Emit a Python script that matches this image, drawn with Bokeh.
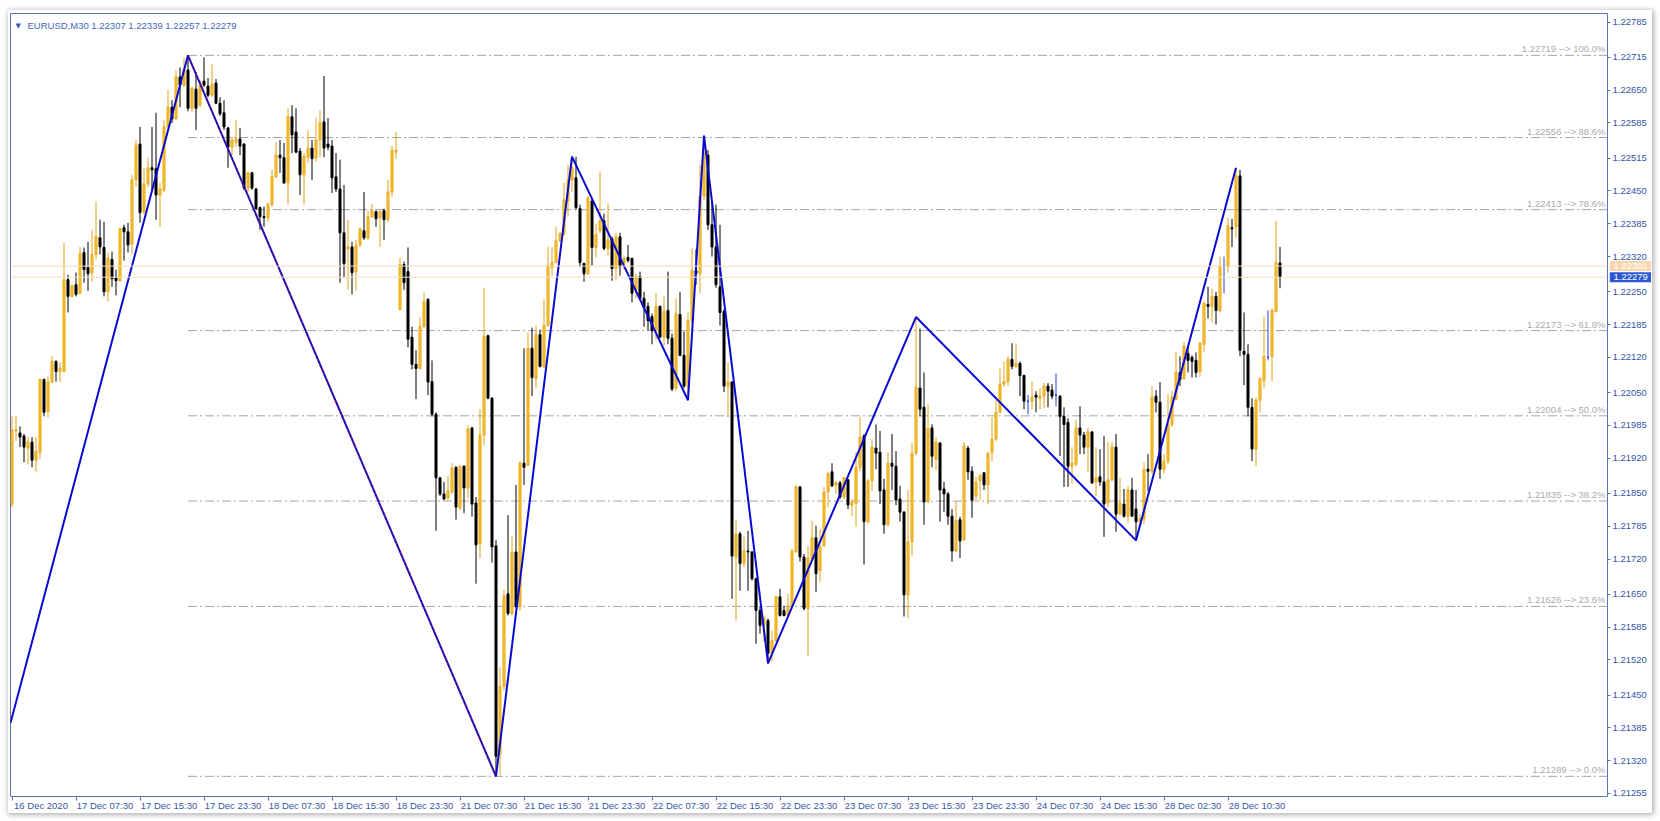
from bokeh.plotting import figure
from bokeh.layouts import row
from bokeh.models import ColumnDataSource, FixedTicker, Label, Range1d, PrintfTickFormatter, Span
from bokeh.embed import file_html
from bokeh.resources import INLINE
from bokeh.core.properties import value

SYMBOL = "EURUSD,M30"

open_ = [
    1.21829, 1.21974, 1.21970, 1.21964, 1.21940, 1.21952, 1.21916, 1.21932, 1.22076, 1.22013,
    1.22071, 1.22112, 1.22092, 1.22092, 1.22274, 1.22241, 1.22264, 1.22247, 1.22328, 1.22298,
    1.22288, 1.22324, 1.22357, 1.22338, 1.22250, 1.22314, 1.22278, 1.22272, 1.22377, 1.22369,
    1.22345, 1.22472, 1.22543, 1.22409, 1.22464, 1.22496, 1.22494, 1.22442, 1.22452, 1.22577,
    1.22616, 1.22593, 1.22676, 1.22660, 1.22690, 1.22614, 1.22652, 1.22620, 1.22668, 1.22658,
    1.22640, 1.22664, 1.22624, 1.22605, 1.22575, 1.22537, 1.22547, 1.22553, 1.22543, 1.22456,
    1.22486, 1.22454, 1.22417, 1.22399, 1.22397, 1.22423, 1.22478, 1.22521, 1.22516, 1.22466,
    1.22597, 1.22567, 1.22529, 1.22482, 1.22517, 1.22535, 1.22516, 1.22551, 1.22587, 1.22543,
    1.22539, 1.22478, 1.22454, 1.22367, 1.22335, 1.22339, 1.22290, 1.22343, 1.22371, 1.22357,
    1.22399, 1.22409, 1.22397, 1.22411, 1.22393, 1.22448, 1.22527, 1.22215, 1.22304, 1.22290,
    1.22160, 1.22106, 1.22098, 1.22181, 1.22235, 1.22072, 1.22007, 1.21881, 1.21849, 1.21841,
    1.21853, 1.21902, 1.21821, 1.21904, 1.21861, 1.21980, 1.21831, 1.21750, 1.21966, 1.22163,
    1.22039, 1.21746, 1.21333, 1.21467, 1.21651, 1.21612, 1.21734, 1.21626, 1.21910, 1.21906,
    1.22138, 1.22078, 1.22165, 1.22102, 1.22183, 1.22298, 1.22308, 1.22351, 1.22365, 1.22430,
    1.22472, 1.22476, 1.22415, 1.22306, 1.22286, 1.22430, 1.22338, 1.22371, 1.22391, 1.22336,
    1.22355, 1.22296, 1.22359, 1.22306, 1.22318, 1.22316, 1.22254, 1.22280, 1.22237, 1.22221,
    1.22201, 1.22173, 1.22221, 1.22160, 1.22213, 1.22158, 1.22059, 1.22205, 1.22124, 1.22063,
    1.22193, 1.22292, 1.22286, 1.22440, 1.22521, 1.22383, 1.22339, 1.22260, 1.22211, 1.22063,
    1.22071, 1.21724, 1.21770, 1.21711, 1.21736, 1.21734, 1.21681, 1.21618, 1.21588, 1.21598,
    1.21533, 1.21558, 1.21645, 1.21618, 1.21608, 1.21627, 1.21734, 1.21863, 1.21724, 1.21622,
    1.21720, 1.21762, 1.21697, 1.21746, 1.21853, 1.21893, 1.21867, 1.21871, 1.21843, 1.21877,
    1.21827, 1.21831, 1.21902, 1.21964, 1.21794, 1.21875, 1.21940, 1.21932, 1.21857, 1.21788,
    1.21910, 1.21904, 1.21839, 1.21813, 1.21649, 1.21754, 1.21930, 1.22059, 1.22021, 1.21833,
    1.21980, 1.21918, 1.21950, 1.21859, 1.21849, 1.21805, 1.21736, 1.21798, 1.21758, 1.21940,
    1.21894, 1.21845, 1.21875, 1.21891, 1.21867, 1.21932, 1.21958, 1.22011, 1.22067, 1.22072,
    1.22116, 1.22102, 1.22108, 1.22084, 1.22033, 1.22033, 1.22045, 1.22039, 1.22043, 1.22063,
    1.22055, 1.22045, 1.22043, 1.22003, 1.21991, 1.21904, 1.21908, 1.21980, 1.21966, 1.21942,
    1.21972, 1.21873, 1.21883, 1.21873, 1.21831, 1.21877, 1.21942, 1.21809, 1.21829, 1.21805,
    1.21857, 1.21819, 1.21794, 1.21800, 1.21898, 1.21894, 1.22043, 1.22031, 1.21898, 1.21914,
    1.21987, 1.22037, 1.22090, 1.22078, 1.22128, 1.22120, 1.22114, 1.22092, 1.22146, 1.22225,
    1.22221, 1.22241, 1.22213, 1.22302, 1.22300, 1.22377, 1.22379, 1.22480, 1.22132, 1.22126,
    1.22021, 1.21938, 1.22035, 1.22074, 1.22120, 1.22122, 1.22211, 1.22307,
]

high = [
    1.22003, 1.22003, 1.21983, 1.21968, 1.21962, 1.21962, 1.21962, 1.22076, 1.22078, 1.22082,
    1.22122, 1.22114, 1.22110, 1.22347, 1.22284, 1.22264, 1.22288, 1.22339, 1.22338, 1.22349,
    1.22373, 1.22430, 1.22393, 1.22389, 1.22328, 1.22330, 1.22294, 1.22377, 1.22383, 1.22387,
    1.22482, 1.22551, 1.22577, 1.22496, 1.22516, 1.22577, 1.22605, 1.22466, 1.22591, 1.22650,
    1.22630, 1.22690, 1.22695, 1.22715, 1.22719, 1.22656, 1.22686, 1.22670, 1.22715, 1.22674,
    1.22701, 1.22672, 1.22636, 1.22630, 1.22577, 1.22557, 1.22591, 1.22575, 1.22545, 1.22488,
    1.22488, 1.22456, 1.22419, 1.22419, 1.22427, 1.22492, 1.22547, 1.22551, 1.22545, 1.22614,
    1.22620, 1.22614, 1.22535, 1.22525, 1.22571, 1.22551, 1.22595, 1.22610, 1.22678, 1.22595,
    1.22551, 1.22525, 1.22512, 1.22462, 1.22393, 1.22349, 1.22353, 1.22377, 1.22448, 1.22411,
    1.22425, 1.22411, 1.22411, 1.22415, 1.22472, 1.22539, 1.22567, 1.22318, 1.22310, 1.22338,
    1.22181, 1.22134, 1.22199, 1.22249, 1.22237, 1.22114, 1.22011, 1.21883, 1.21873, 1.21885,
    1.21910, 1.21904, 1.21906, 1.21906, 1.21985, 1.21982, 1.21843, 1.22017, 1.22258, 1.22165,
    1.22041, 1.21758, 1.21505, 1.21659, 1.21807, 1.21766, 1.21867, 1.21914, 1.22138, 1.22169,
    1.22179, 1.22183, 1.22175, 1.22235, 1.22339, 1.22339, 1.22379, 1.22369, 1.22466, 1.22502,
    1.22518, 1.22518, 1.22423, 1.22308, 1.22440, 1.22434, 1.22385, 1.22488, 1.22405, 1.22425,
    1.22359, 1.22367, 1.22367, 1.22322, 1.22343, 1.22318, 1.22286, 1.22290, 1.22250, 1.22229,
    1.22207, 1.22247, 1.22223, 1.22241, 1.22290, 1.22167, 1.22237, 1.22250, 1.22171, 1.22209,
    1.22336, 1.22334, 1.22502, 1.22560, 1.22531, 1.22427, 1.22423, 1.22383, 1.22215, 1.22110,
    1.22072, 1.21798, 1.21774, 1.21766, 1.21776, 1.21736, 1.21683, 1.21627, 1.21608, 1.21602,
    1.21578, 1.21647, 1.21661, 1.21627, 1.21651, 1.21740, 1.21867, 1.21865, 1.21730, 1.21746,
    1.21796, 1.21786, 1.21780, 1.21863, 1.21893, 1.21910, 1.21875, 1.21875, 1.21883, 1.21879,
    1.21839, 1.21932, 1.22001, 1.21968, 1.21879, 1.21958, 1.21987, 1.21974, 1.21879, 1.21932,
    1.21968, 1.21934, 1.21865, 1.21815, 1.21857, 1.21950, 1.22200, 1.22177, 1.22090, 1.22027,
    1.21987, 1.21962, 1.21952, 1.21873, 1.21853, 1.21819, 1.21835, 1.21804, 1.21952, 1.21944,
    1.21904, 1.21883, 1.21889, 1.21893, 1.21932, 1.22001, 1.22035, 1.22098, 1.22112, 1.22122,
    1.22148, 1.22148, 1.22112, 1.22086, 1.22045, 1.22072, 1.22053, 1.22059, 1.22069, 1.22069,
    1.22067, 1.22088, 1.22045, 1.22021, 1.21999, 1.21942, 1.21997, 1.22023, 1.21972, 1.21980,
    1.21974, 1.21942, 1.21938, 1.21964, 1.21952, 1.21952, 1.21968, 1.21881, 1.21859, 1.21865,
    1.21881, 1.21857, 1.21809, 1.21912, 1.21928, 1.22063, 1.22055, 1.22071, 1.21928, 1.22047,
    1.22053, 1.22130, 1.22122, 1.22150, 1.22142, 1.22124, 1.22130, 1.22150, 1.22231, 1.22260,
    1.22256, 1.22250, 1.22320, 1.22320, 1.22397, 1.22395, 1.22496, 1.22492, 1.22209, 1.22146,
    1.22039, 1.22041, 1.22080, 1.22201, 1.22213, 1.22217, 1.22391, 1.22339,
]

low = [
    1.21823, 1.21954, 1.21942, 1.21912, 1.21908, 1.21902, 1.21893, 1.21918, 1.22003, 1.22001,
    1.22069, 1.22072, 1.22071, 1.22090, 1.22209, 1.22239, 1.22241, 1.22245, 1.22268, 1.22252,
    1.22270, 1.22314, 1.22324, 1.22241, 1.22231, 1.22260, 1.22243, 1.22270, 1.22312, 1.22328,
    1.22324, 1.22458, 1.22387, 1.22403, 1.22458, 1.22448, 1.22393, 1.22379, 1.22448, 1.22575,
    1.22585, 1.22591, 1.22616, 1.22656, 1.22608, 1.22606, 1.22571, 1.22616, 1.22656, 1.22636,
    1.22636, 1.22622, 1.22599, 1.22571, 1.22496, 1.22521, 1.22537, 1.22521, 1.22452, 1.22448,
    1.22452, 1.22413, 1.22373, 1.22379, 1.22389, 1.22419, 1.22476, 1.22486, 1.22464, 1.22423,
    1.22525, 1.22525, 1.22442, 1.22423, 1.22506, 1.22472, 1.22508, 1.22517, 1.22517, 1.22531,
    1.22446, 1.22448, 1.22268, 1.22278, 1.22254, 1.22245, 1.22252, 1.22339, 1.22353, 1.22353,
    1.22397, 1.22379, 1.22339, 1.22353, 1.22389, 1.22438, 1.22514, 1.22213, 1.22254, 1.22140,
    1.22096, 1.22037, 1.22096, 1.22179, 1.22045, 1.22003, 1.21776, 1.21845, 1.21837, 1.21837,
    1.21849, 1.21798, 1.21817, 1.21811, 1.21841, 1.21804, 1.21671, 1.21722, 1.21946, 1.22037,
    1.21713, 1.21289, 1.21291, 1.21459, 1.21608, 1.21608, 1.21622, 1.21618, 1.21867, 1.21904,
    1.22043, 1.22059, 1.22100, 1.22098, 1.22181, 1.22282, 1.22306, 1.22349, 1.22361, 1.22399,
    1.22448, 1.22413, 1.22299, 1.22270, 1.22284, 1.22302, 1.22318, 1.22367, 1.22332, 1.22322,
    1.22272, 1.22272, 1.22282, 1.22294, 1.22308, 1.22229, 1.22237, 1.22235, 1.22181, 1.22173,
    1.22146, 1.22154, 1.22158, 1.22144, 1.22146, 1.22053, 1.22053, 1.22122, 1.22059, 1.22035,
    1.22187, 1.22264, 1.22247, 1.22432, 1.22373, 1.22320, 1.22258, 1.22183, 1.22051, 1.22001,
    1.21641, 1.21598, 1.21657, 1.21703, 1.21657, 1.21677, 1.21552, 1.21572, 1.21556, 1.21513,
    1.21517, 1.21556, 1.21606, 1.21606, 1.21606, 1.21626, 1.21734, 1.21715, 1.21618, 1.21528,
    1.21716, 1.21655, 1.21675, 1.21744, 1.21823, 1.21863, 1.21849, 1.21839, 1.21839, 1.21819,
    1.21805, 1.21784, 1.21894, 1.21709, 1.21790, 1.21855, 1.21898, 1.21829, 1.21770, 1.21784,
    1.21857, 1.21827, 1.21794, 1.21606, 1.21602, 1.21726, 1.21926, 1.22003, 1.21788, 1.21831,
    1.21902, 1.21896, 1.21794, 1.21813, 1.21788, 1.21715, 1.21734, 1.21722, 1.21756, 1.21877,
    1.21802, 1.21837, 1.21837, 1.21857, 1.21829, 1.21914, 1.21954, 1.22009, 1.22061, 1.22063,
    1.22096, 1.22100, 1.22043, 1.22017, 1.22007, 1.22017, 1.22011, 1.22017, 1.22019, 1.22021,
    1.22037, 1.22023, 1.21924, 1.21863, 1.21863, 1.21869, 1.21904, 1.21928, 1.21928, 1.21893,
    1.21869, 1.21845, 1.21865, 1.21764, 1.21823, 1.21875, 1.21774, 1.21807, 1.21802, 1.21792,
    1.21804, 1.21757, 1.21790, 1.21790, 1.21855, 1.21889, 1.22011, 1.21879, 1.21889, 1.21908,
    1.21982, 1.22035, 1.22063, 1.22076, 1.22090, 1.22080, 1.22080, 1.22082, 1.22130, 1.22197,
    1.22189, 1.22185, 1.22209, 1.22247, 1.22288, 1.22339, 1.22357, 1.22122, 1.22065, 1.22003,
    1.21914, 1.21904, 1.22011, 1.22059, 1.22114, 1.22072, 1.22209, 1.22257,
]

close = [
    1.21976, 1.21976, 1.21962, 1.21942, 1.21952, 1.21916, 1.21934, 1.22076, 1.22011, 1.22071,
    1.22112, 1.22092, 1.22098, 1.22274, 1.22241, 1.22262, 1.22245, 1.22326, 1.22294, 1.22286,
    1.22324, 1.22359, 1.22339, 1.22250, 1.22316, 1.22276, 1.22272, 1.22375, 1.22369, 1.22343,
    1.22472, 1.22541, 1.22407, 1.22464, 1.22496, 1.22492, 1.22442, 1.22454, 1.22577, 1.22616,
    1.22593, 1.22676, 1.22660, 1.22690, 1.22614, 1.22654, 1.22614, 1.22660, 1.22660, 1.22640,
    1.22662, 1.22624, 1.22603, 1.22577, 1.22537, 1.22551, 1.22553, 1.22539, 1.22456, 1.22486,
    1.22456, 1.22415, 1.22399, 1.22397, 1.22423, 1.22478, 1.22521, 1.22516, 1.22466, 1.22597,
    1.22561, 1.22527, 1.22482, 1.22519, 1.22535, 1.22514, 1.22551, 1.22585, 1.22535, 1.22537,
    1.22476, 1.22454, 1.22367, 1.22306, 1.22339, 1.22288, 1.22343, 1.22375, 1.22357, 1.22399,
    1.22411, 1.22395, 1.22409, 1.22393, 1.22448, 1.22531, 1.22531, 1.22304, 1.22268, 1.22156,
    1.22106, 1.22098, 1.22181, 1.22231, 1.22071, 1.22007, 1.21881, 1.21849, 1.21839, 1.21855,
    1.21900, 1.21823, 1.21904, 1.21861, 1.21978, 1.21829, 1.21748, 1.21966, 1.22161, 1.22039,
    1.21744, 1.21329, 1.21467, 1.21647, 1.21612, 1.21734, 1.21626, 1.21910, 1.21902, 1.22138,
    1.22080, 1.22165, 1.22102, 1.22183, 1.22302, 1.22308, 1.22351, 1.22365, 1.22432, 1.22472,
    1.22496, 1.22417, 1.22308, 1.22286, 1.22436, 1.22338, 1.22363, 1.22391, 1.22336, 1.22353,
    1.22296, 1.22359, 1.22300, 1.22316, 1.22312, 1.22247, 1.22280, 1.22237, 1.22219, 1.22193,
    1.22173, 1.22221, 1.22160, 1.22211, 1.22158, 1.22057, 1.22207, 1.22124, 1.22063, 1.22193,
    1.22292, 1.22286, 1.22440, 1.22525, 1.22383, 1.22339, 1.22264, 1.22209, 1.22063, 1.22071,
    1.21726, 1.21770, 1.21711, 1.21736, 1.21734, 1.21681, 1.21618, 1.21588, 1.21602, 1.21533,
    1.21558, 1.21645, 1.21608, 1.21608, 1.21627, 1.21736, 1.21863, 1.21724, 1.21622, 1.21722,
    1.21762, 1.21691, 1.21744, 1.21853, 1.21889, 1.21865, 1.21871, 1.21843, 1.21881, 1.21827,
    1.21833, 1.21902, 1.21962, 1.21794, 1.21875, 1.21942, 1.21930, 1.21855, 1.21788, 1.21910,
    1.21904, 1.21837, 1.21813, 1.21649, 1.21754, 1.21930, 1.22061, 1.22017, 1.21833, 1.21978,
    1.21924, 1.21952, 1.21857, 1.21849, 1.21805, 1.21736, 1.21796, 1.21756, 1.21944, 1.21893,
    1.21837, 1.21873, 1.21885, 1.21867, 1.21930, 1.21958, 1.22011, 1.22067, 1.22072, 1.22116,
    1.22102, 1.22108, 1.22084, 1.22033, 1.22033, 1.22041, 1.22041, 1.22043, 1.22063, 1.22053,
    1.22043, 1.22045, 1.22003, 1.21987, 1.21904, 1.21910, 1.21980, 1.21966, 1.21942, 1.21972,
    1.21871, 1.21881, 1.21873, 1.21829, 1.21877, 1.21942, 1.21809, 1.21831, 1.21805, 1.21857,
    1.21805, 1.21794, 1.21800, 1.21898, 1.21894, 1.22041, 1.22031, 1.21898, 1.21914, 1.21987,
    1.22041, 1.22090, 1.22076, 1.22142, 1.22114, 1.22112, 1.22090, 1.22148, 1.22227, 1.22221,
    1.22241, 1.22213, 1.22300, 1.22302, 1.22381, 1.22375, 1.22480, 1.22134, 1.22126, 1.22021,
    1.21938, 1.22035, 1.22078, 1.22122, 1.22120, 1.22213, 1.22308, 1.22279,
]

time_labels = [
    "16 Dec 2020", "17 Dec 07:30", "17 Dec 15:30", "17 Dec 23:30", "18 Dec 07:30",
    "18 Dec 15:30", "18 Dec 23:30", "21 Dec 07:30", "21 Dec 15:30", "21 Dec 23:30",
    "22 Dec 07:30", "22 Dec 15:30", "22 Dec 23:30", "23 Dec 07:30", "23 Dec 15:30",
    "23 Dec 23:30", "24 Dec 07:30", "24 Dec 15:30", "28 Dec 02:30", "28 Dec 10:30",
]
bars_per_label = 16

price_ticks = [
    1.22785, 1.22715, 1.22650, 1.22585, 1.22515, 1.22450, 1.22385, 1.22320,
    1.22250, 1.22185, 1.22120, 1.22050, 1.21985, 1.21920, 1.21850, 1.21785,
    1.21720, 1.21650, 1.21585, 1.21520, 1.21450, 1.21385, 1.21320, 1.21255,
]

zigzag_bar = [-0.375, 44, 121, 140, 169, 173, 189, 226, 281, 306]
zigzag_price = [1.21395, 1.22719, 1.21289, 1.22518, 1.22035, 1.22560, 1.21513, 1.22200, 1.21757, 1.22496]

fib_ratio = [100.0, 88.6, 78.6, 61.8, 50.0, 38.2, 23.6, 0.0]
fib_price = [1.22719, 1.22556, 1.22413, 1.22173, 1.22004, 1.21835, 1.21626, 1.21289]
fib_from_bar = 44
fib_to_bar = 121

ask_price = 1.22301
bid_price = 1.22279

# ---------------------------------------------------------------- styling
FONT = "Liberation Sans"
AXIS_BLUE = "#3556a6"
FRAME = "#5874ad"
BULL_FILL = "#ffd21a"
BULL_LINE = "#e3a21a"
BEAR = "#000000"
DOJI = "#2a3fd0"

x_start = -0.375
x_end = x_start + 399.25
y_start, y_end = 1.21249, 1.22802

WIN_LEFT, WIN_TOP = 8, 10          # chart window position on the page
BORDER_L, BORDER_T, BORDER_R, BORDER_B = 2, 3, 45, 15
WIN_W, WIN_H = 1644, 803

y_range = Range1d(y_start, y_end)

p = figure(width=WIN_W, height=WIN_H, output_backend="svg", toolbar_location=None,
           x_range=Range1d(x_start, x_end), y_range=y_range,
           y_axis_location="right",
           min_border_left=BORDER_L, min_border_top=BORDER_T,
           min_border_right=BORDER_R, min_border_bottom=BORDER_B,
           background_fill_color="white", border_fill_color="white",
           outline_line_color=FRAME, outline_line_width=1)
p.styles = {"margin-left": f"{WIN_LEFT}px", "margin-top": f"{WIN_TOP}px",
            "box-shadow": "1px 1px 5px 1px rgba(0,0,0,0.30)"}
p.grid.visible = False

n = len(close)
xs = list(range(n))
wick_col, fill_col, line_col, tops, bottoms = [], [], [], [], []
for o, c in zip(open_, close):
    if c > o:
        wick_col.append(BULL_LINE); fill_col.append(BULL_FILL); line_col.append(BULL_LINE)
    elif c < o:
        wick_col.append(BEAR); fill_col.append(BEAR); line_col.append(BEAR)
    else:
        wick_col.append(DOJI); fill_col.append(DOJI); line_col.append(DOJI)
    tops.append(max(o, c)); bottoms.append(min(o, c))

src = ColumnDataSource(dict(x=xs, h=high, l=low, top=tops, bottom=bottoms,
                            wick=wick_col, fill=fill_col, line=line_col))

# ask / bid lines
p.add_layout(Span(location=ask_price, dimension="width", line_color="#f6d9bc", line_width=1))
p.add_layout(Span(location=bid_price, dimension="width", line_color="#f3dfbf", line_width=1))

# fibonacci levels
p.segment(x0=[fib_from_bar] * len(fib_price), y0=fib_price,
          x1=[x_end] * len(fib_price), y1=fib_price,
          line_color="#a4a4a4", line_width=1, line_dash="9 3 2 3")
p.text(x=[x_end] * len(fib_price), y=fib_price,
       text=[f"{pr:.5f} --> {r:.1f}%" for pr, r in zip(fib_price, fib_ratio)],
       text_align="right", text_baseline="bottom", x_offset=-2, y_offset=-1,
       text_font=value(FONT), text_font_size="9.5px", text_color="#ababab")

# candles
p.segment(x0="x", y0="l", x1="x", y1="h", line_color="wick", line_width=1, source=src)
p.vbar(x="x", width=0.5, top="top", bottom="bottom", fill_color="fill",
       line_color="line", line_width=1, source=src)

# zigzag + fibo trendline
p.line(zigzag_bar, zigzag_price, line_color="#0a0ad2", line_width=2)
p.line([fib_from_bar, fib_to_bar], [fib_price[0], fib_price[-1]],
       line_color="#d01010", line_width=1, line_dash="2 3")

# axes
p.yaxis.ticker = FixedTicker(ticks=price_ticks)
p.yaxis.formatter = PrintfTickFormatter(format="%.5f")
p.yaxis.axis_line_color = None
p.yaxis.major_tick_out = 3
p.yaxis.major_tick_in = 0
p.yaxis.minor_tick_line_color = None
p.yaxis.major_tick_line_color = FRAME
p.yaxis.major_label_standoff = 2
p.yaxis.major_label_text_color = AXIS_BLUE
p.yaxis.major_label_text_font = FONT
p.yaxis.major_label_text_font_size = "9.5px"

label_bars = [i * bars_per_label for i in range(len(time_labels))]
shift = 7.25
p.xaxis.ticker = FixedTicker(ticks=[b + shift for b in label_bars], minor_ticks=label_bars)
p.xaxis.major_label_overrides = {b + shift: t for b, t in zip(label_bars, time_labels)}
p.xaxis.axis_line_color = None
p.xaxis.major_tick_out = 0
p.xaxis.major_tick_in = 0
p.xaxis.minor_tick_out = 4
p.xaxis.minor_tick_in = 0
p.xaxis.minor_tick_line_color = FRAME
p.xaxis.major_label_standoff = -1
p.xaxis.major_label_text_color = AXIS_BLUE
p.xaxis.major_label_text_font = FONT
p.xaxis.major_label_text_font_size = "9.5px"

# title line
p.add_layout(Label(x=x_start, y=y_end, x_offset=5, y_offset=-12, text="\u25bc",
                   text_font="DejaVu Sans", text_font_size="7px",
                   text_color="#3a5cb8", text_baseline="middle"))
title = f"{SYMBOL}  {open_[-1]:.5f} {high[-1]:.5f} {low[-1]:.5f} {close[-1]:.5f}"
p.add_layout(Label(x=x_start, y=y_end, x_offset=17, y_offset=-12, text=title,
                   text_font=FONT, text_font_size="9.5px",
                   text_color="#4466bb", text_baseline="middle"))

# ---------------------------------------------------------------- ask / bid boxes on the price axis
# a transparent strip laid over the axis area, sharing the same price range
BOX_LEFT = 1609      # page x of the boxes
BOX_W = 42
q = figure(width=BOX_W, height=WIN_H, output_backend="svg", toolbar_location=None,
           x_range=Range1d(0, BOX_W), y_range=y_range,
           x_axis_location=None, y_axis_location=None,
           min_border_left=0, min_border_right=0,
           min_border_top=BORDER_T, min_border_bottom=BORDER_B,
           outline_line_color=None, background_fill_alpha=0, border_fill_alpha=0)
q.grid.visible = False
q.styles = {"margin-left": f"{BOX_LEFT - (WIN_LEFT + WIN_W)}px",
            "margin-top": f"{WIN_TOP}px"}
q.rect(x=[BOX_W / 2, BOX_W / 2], y=[ask_price, bid_price], width=BOX_W, height=10,
       height_units="screen", fill_color=["#fbd5ad", "#2b58d2"], line_color=None)
q.text(x=[4, 4], y=[ask_price, bid_price],
       text=[f"{ask_price:.5f}", f"{bid_price:.5f}"], text_baseline="middle",
       text_font=value(FONT), text_font_size="9.5px", text_color="white")

layout = row(p, q, spacing=0)
open("out.html", "w").write(file_html(layout, INLINE))
